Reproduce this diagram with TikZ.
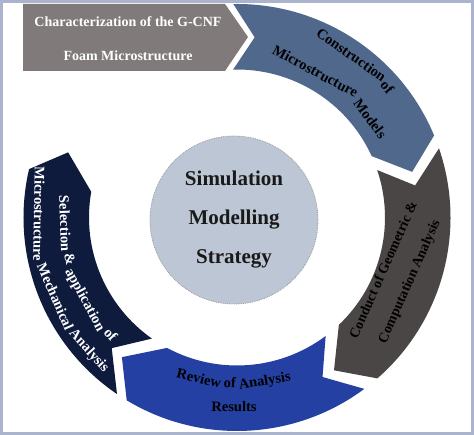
\documentclass[tikz,border=0pt]{standalone}
\usepackage{fontspec}
\setmainfont{Liberation Serif}
\usepackage{tikz}

\definecolor{boxgray}{RGB}{128,122,122}
\definecolor{steelseg}{RGB}{79,104,140}
\definecolor{darkseg}{RGB}{74,70,69}
\definecolor{royalseg}{RGB}{35,64,162}
\definecolor{navyseg}{RGB}{14,27,61}
\definecolor{hubfill}{RGB}{189,198,212}
\definecolor{framecol}{RGB}{170,180,204}

\begin{document}
\begin{tikzpicture}[
    x=1pt, y=1pt,
    boxlab/.style={font=\bfseries\fontsize{14}{34}\selectfont, text=white, align=center},
    hublab/.style={font=\bfseries\fontsize{21}{39}\selectfont, align=center, text=black!90},
    steplab/.style={font=\bfseries\fontsize{14}{28}\selectfont, align=center},
    wordlab/.style={font=\bfseries\fontsize{14.5}{14.5}\selectfont, inner sep=0pt, anchor=base, text=#1},
    wordlab/.default=black
  ]
    \useasboundingbox (0,0) rectangle (474,435);
    \fill[white] (0,0) rectangle (474,435);
    \draw[framecol, line width=3pt] (1.5,1.5) rectangle (472.5,433.5);

    \coordinate (ctr) at (237,217.5);

    % first step: plain arrow box
    \fill[boxgray] (23,431) -- (225,431) -- (248,398) -- (225,364) -- (23,364) -- cycle;
    \node[boxlab] (charac) at (128,396) {Characterization of the G-CNF\\Foam Microstructure};

    % ring of steps, clockwise
    \begin{scope}[shift={(ctr)}]
      \fill[steelseg] (91:213.5) arc[start angle=91, end angle=22.6, radius=213.5] -- (14.6:181) -- (24.5:148) arc[start angle=24.5, end angle=91.5, radius=148] -- (84.4:181) -- cycle;
      \fill[darkseg] (18.9:213.5) arc[start angle=18.9, end angle=-48.9, radius=213.5] -- (-57.6:181) -- (-46.5:148) arc[start angle=-46.5, end angle=18.7, radius=148] -- (10.2:181) -- cycle;
      \fill[royalseg] (-53.4:213.5) arc[start angle=-53.4, end angle=-121.1, radius=213.5] -- (-129.5:181) -- (-118.2:148) arc[start angle=-118.2, end angle=-53.2, radius=148] -- (-61.8:181) -- cycle;
      \fill[navyseg] (235.8:213.5) arc[start angle=235.8, end angle=166.9, radius=213.5] -- (158.9:181) -- (170:148) arc[start angle=170, end angle=234.9, radius=148] -- (226.2:181) -- cycle;

      % words set round the ring
      \node[wordlab, rotate=-35.1] (cons) at (54.9:194) {Construction};
      \node[wordlab, rotate=-49.1] (consof) at (40.9:194) {of};
      \node[wordlab, rotate=-28.2] (micro) at (61.8:161) {Microstructure};
      \node[wordlab, rotate=-53.4] (models) at (36.6:161) {Models};

      \node[wordlab, rotate=-13.3] (review) at (-103.3:170) {Review};
      \node[wordlab, rotate=-2.5] (revof) at (-92.5:170) {of};
      \node[wordlab, rotate=9.6] (analysis) at (-80.4:170) {Analysis};
      \node[wordlab, rotate=-0.9] (results) at (-90.9:194) {Results};

      \node[wordlab=white, rotate=272.0] (select) at (182.0:177) {Selection};
      \node[wordlab=white, rotate=284.1] (amp) at (194.1:177) {\&};
      \node[wordlab=white, rotate=298.4] (applic) at (208.4:177) {application};
      \node[wordlab=white, rotate=312.8] (selof) at (222.8:177) {of};
      \node[wordlab=white, rotate=269.0] (micro2) at (179.0:203) {Microstructure};
      \node[wordlab=white, rotate=293.5] (mech) at (203.5:203) {Mechanical};
      \node[wordlab=white, rotate=312.0] (analysis2) at (222.0:203) {Analysis};
    \end{scope}

    \node[steplab, rotate=66] (conduct) at (397,159) {Conduct of Geometric \&\\Computation Analysis};

    % centre
    \node[circle, minimum size=168pt, fill=hubfill, draw=gray!80, densely dotted, line width=0.8pt, hublab] (hub) at (234,215) {Simulation\\Modelling\\Strategy};
\end{tikzpicture}
\end{document}
